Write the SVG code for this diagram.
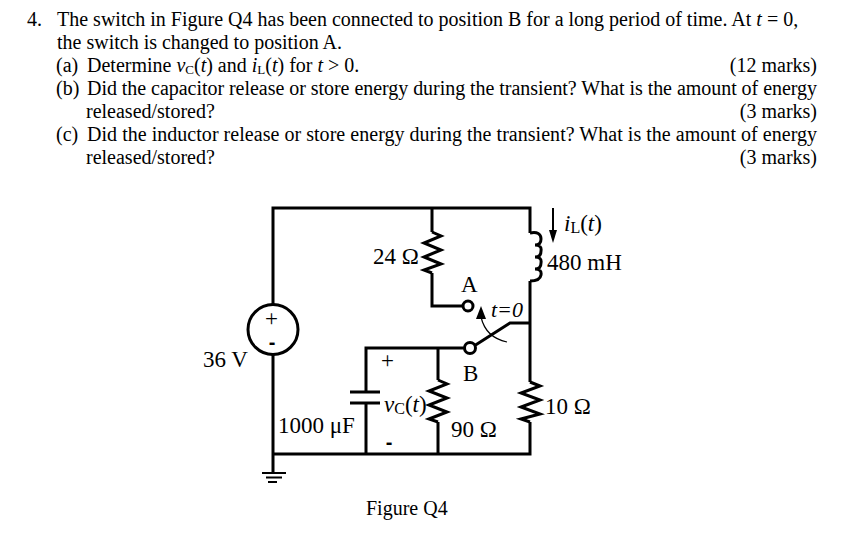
<svg xmlns="http://www.w3.org/2000/svg" width="849" height="545" viewBox="0 0 849 545">
<style>
text{font-family:"Liberation Serif","Times New Roman",serif;font-size:20px;fill:#000}
.l{font-size:23px}
.i{font-style:italic}
.s{font-size:13px}
.ls{font-size:16px}
.r{text-anchor:end}
.m{text-anchor:middle}
.w{fill:none;stroke:#000;stroke-width:3;stroke-linejoin:miter}
.g{fill:none;stroke:#000;stroke-width:2}
.t{fill:none;stroke:#000;stroke-width:1.2}
</style>
<rect width="849" height="545" fill="#fff"/>
<g id="question">
<text x="27" y="26">4.</text>
<text x="57" y="26">The switch in Figure Q4 has been connected to position B for a long period of time. At <tspan class="i">t</tspan> = 0,</text>
<text x="57" y="49">the switch is changed to position A.</text>
<text x="56" y="72">(a)</text>
<text x="87" y="72">Determine <tspan class="i">v</tspan><tspan class="s" dy="2">C</tspan><tspan dy="-2">(</tspan><tspan class="i">t</tspan>) and <tspan class="i">i</tspan><tspan class="s" dy="2">L</tspan><tspan dy="-2">(</tspan><tspan class="i">t</tspan>) for <tspan class="i">t</tspan> &gt; 0.</text>
<text x="817" y="72" class="r">(12 marks)</text>
<text x="56" y="95">(b)</text>
<text x="87" y="95" textLength="730" lengthAdjust="spacing">Did the capacitor release or store energy during the transient? What is the amount of energy</text>
<text x="86" y="118">released/stored?</text>
<text x="817" y="118" class="r">(3 marks)</text>
<text x="56" y="141">(c)</text>
<text x="87" y="141" textLength="730" lengthAdjust="spacing">Did the inductor release or store energy during the transient? What is the amount of energy</text>
<text x="86" y="164">released/stored?</text>
<text x="817" y="164" class="r">(3 marks)</text>
</g>
<g id="connectors">
<path class="w" d="M273 304V208H530V233M530 281V382M530 422V454H273M273 355V473"/>
<path class="w" d="M432 208V232M432 273V306H463"/>
<path class="w" d="M366 392V348H465M366 403V454"/>
<path class="w" d="M438 348V380M438 422V454"/>
<path class="w" d="M474 346L510 323H530"/>
<path class="t" d="M507 342C493 339 484 330 481 317"/>
<path d="M481 306L476 319L486 319Z" fill="#000"/>
<path class="g" d="M553 208V232"/>
<path d="M553 243L549 230H557Z" fill="#000"/>
</g>
<g id="source">
<circle class="w" cx="273" cy="329.500" r="25"/>
<text x="271.500" y="326" class="m l">+</text>
<text x="272" y="349" class="m" style="font-family:'Liberation Sans',sans-serif;font-size:20px;font-weight:bold">-</text>
<text x="203" y="367" class="l">36 V</text>
</g>
<g id="ground">
<path class="g" d="M262 473H286M266 477.500H282M268 482H277"/>
</g>
<g id="r24">
<path class="w" d="M432 232L441 236L424 243L441 250L424 257L441 264L424 270L432 273"/>
<text x="373" y="264" class="l">24 Ω</text>
</g>
<g id="inductor">
<path class="w" d="M530 233Q541 231 541 239Q541 245 535 245Q542 245 541 251Q541 257 535 257Q542 257 541 263Q541 269 535 269Q542 269 541 275Q540 281 530 281"/>
<text x="547" y="270" class="l">480 mH</text>
<text x="564" y="231" class="l"><tspan class="i">i</tspan><tspan class="ls" dy="2">L</tspan><tspan dy="-2">(</tspan><tspan class="i">t</tspan>)</text>
</g>
<g id="switch">
<circle cx="468" cy="306" r="5" fill="#fff" stroke="#000" stroke-width="3"/>
<circle cx="470" cy="348" r="5.500" fill="#fff" stroke="#000" stroke-width="3"/>
<text x="461" y="292" class="l">A</text>
<text x="463" y="381" class="l">B</text>
<text x="491" y="317" class="i" style="font-size:22px">t=0</text>
</g>
<g id="capacitor">
<path class="w" d="M350 392H380M350 403H380"/>
<text x="278" y="433" class="l">1000 μF</text>
<text x="381" y="368" class="l">+</text>
<text x="389" y="449" class="m" style="font-family:'Liberation Sans',sans-serif;font-size:20px;font-weight:bold">-</text>
<text x="384" y="412" class="l"><tspan class="i">v</tspan><tspan class="ls" dy="2">C</tspan><tspan dy="-2">(</tspan><tspan class="i">t</tspan>)</text>
</g>
<g id="r90">
<path class="w" d="M438 380L447 384L429 391L447 398L429 405L447 412L429 419L438 422"/>
<text x="451" y="437" class="l">90 Ω</text>
</g>
<g id="r10">
<path class="w" d="M530 382L540 386L521 393L540 400L521 407L540 414L521 419L530 422"/>
<text x="545" y="414" class="l">10 Ω</text>
</g>
<text x="366" y="515">Figure Q4</text>
</svg>
